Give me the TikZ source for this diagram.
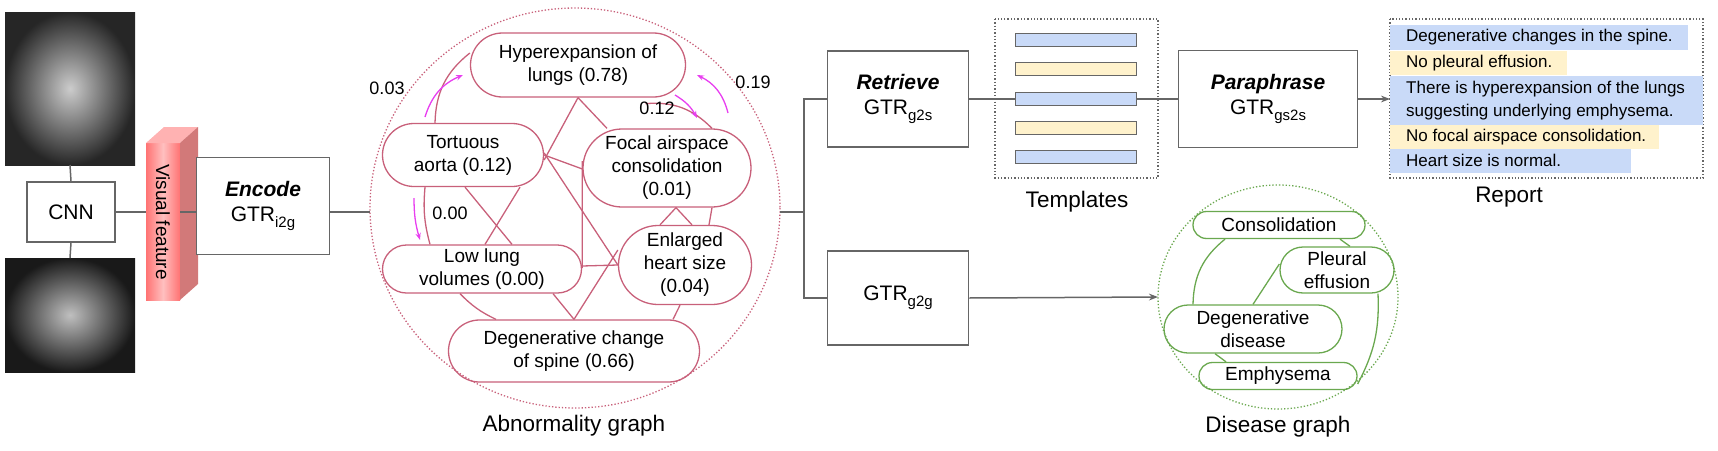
\documentclass[tikz,border=0pt]{standalone}
\usepackage{fontspec}
\setmainfont{Liberation Sans}
\usetikzlibrary{shapes.misc,arrows.meta,calc}
\definecolor{pk}{HTML}{C8607A}
\definecolor{mg}{HTML}{E83EF0}
\definecolor{gn}{HTML}{6AA84F}
\definecolor{gy}{HTML}{666666}
\definecolor{bl}{HTML}{C9DAF8}
\definecolor{yl}{HTML}{FFF2CC}
\newcommand\gsub[1]{\raisebox{-6pt}{\fontsize{15}{16}\selectfont #1}}
\begin{document}
\begin{tikzpicture}[x=1pt,y=-1pt,
  box/.style={draw=gy,line width=1.5pt,fill=white,align=center,font=\fontsize{21}{25}\selectfont},
  an/.style={draw=pk,line width=1.3pt,rounded rectangle,align=center,inner sep=1pt,font=\fontsize{19}{23}\selectfont},
  dn/.style={draw=gn,line width=1.3pt,rounded rectangle,align=center,inner sep=1pt,font=\fontsize{19}{23}\selectfont},
  pe/.style={draw=pk,line width=1.3pt},
  ge/.style={draw=gn,line width=1.3pt},
  ma/.style={draw=mg,line width=1.3pt,-{Stealth[length=7pt]}},
  gl/.style={draw=gy,line width=1.5pt},
  lbl/.style={font=\fontsize{22.5}{26}\selectfont},
  num/.style={font=\fontsize{18}{21}\selectfont},
  rep/.style={anchor=west,inner sep=0pt,font=\fontsize{17}{20}\selectfont}]
\useasboundingbox (0,0) rectangle (1718,450);
% x-ray placeholders
\shade[inner color=gray!40,outer color=black!85] (5,12) rectangle (135,165);
\shade[inner color=gray!50,outer color=black!90] (5,258) rectangle (135,372);
\coordinate (imgA) at (70,165);
\coordinate (imgB) at (70,258);
\node[box,minimum width=88pt,minimum height=60pt] (cnn) at (71,212) {CNN};
\draw[gl] (imgA) -- (cnn.north);
\draw[gl] (imgB) -- (cnn.south);
% visual feature block
\shade[left color=red!55!white,right color=red!55!white,middle color=red!25!white] (146,143) rectangle (180,300);
\fill[red!30!white] (146,143) -- (164,127) -- (198,127) -- (180,143) -- cycle;
\fill[red!50!gray!70] (180,143) -- (198,127) -- (198,284) -- (180,300) -- cycle;
\node[rotate=-90,font=\fontsize{19}{22}\selectfont] (vf) at (163,222) {Visual feature};
\coordinate (vfl) at (146,212);
\coordinate (vfr) at (180,212);
\draw[gl] (cnn.east) -- (vfl);
\node[box,minimum width=133pt,minimum height=97pt] (enc) at (263,206) {\textbf{\textit{Encode}}\\GTR\gsub{i2g}};
\draw[gl] (vfr) -- (enc.west|-vfr);
% abnormality graph
\draw[pk,line width=1.3pt,dotted] (575,208) ellipse [x radius=205,y radius=200];
\coordinate (abl) at (370,212);
\coordinate (abr) at (780,212);
\draw[gl] (enc.east|-abl) -- (abl);
\node[an,minimum width=217pt,minimum height=64pt] (hyp) at (578,65) {Hyperexpansion of\\lungs (0.78)};
\node[an,minimum width=163pt,minimum height=63pt] (tor) at (463,155) {Tortuous\\aorta (0.12)};
\node[an,minimum width=170pt,minimum height=78pt] (foc) at (667,168) {Focal airspace\\consolidation\\(0.01)};
\node[an,minimum width=201pt,minimum height=48pt] (low) at (482,269) {Low lung\\volumes (0.00)};
\node[an,minimum width=135pt,minimum height=79pt] (enl) at (685,265) {Enlarged\\heart size\\(0.04)};
\node[an,minimum width=253pt,minimum height=62pt] (deg) at (574,351) {Degenerative change\\of spine (0.66)};
\draw[pe] ([xshift=-28pt]tor.north) to[bend left=25] ([yshift=12pt]hyp.west);
\draw[pe] (hyp.south) -- ([yshift=-5pt]tor.east);
\draw[pe] (hyp.south) -- ([xshift=-60pt]foc.north);
\draw[pe] ([xshift=-8pt,yshift=-6pt]hyp.south east) to[bend left=25] ([xshift=45pt]foc.north);
\draw[pe] (tor.east) -- ([yshift=-1pt]foc.west);
\draw[pe] ([yshift=2pt]tor.east) -- (enl.west);
\draw[pe] ([xshift=2pt]tor.south) -- ([xshift=30pt]low.north);
\draw[pe] ([xshift=57pt]tor.south) -- ([xshift=3pt]low.north);
\draw[pe] ([xshift=-38pt]tor.south) to[bend right=10] ([xshift=-52pt]low.north);
\draw[pe] ([yshift=7pt]foc.west) -- ([yshift=1pt]low.east);
\draw[pe] ([yshift=3pt]low.east) -- ([yshift=-0pt]enl.west);
\draw[pe] ([xshift=9pt]foc.south) -- ([xshift=-25pt]enl.north);
\draw[pe] ([xshift=9pt]foc.south) -- ([xshift=7pt]enl.north);
\draw[pe] ([xshift=45pt]foc.south) -- ([xshift=24pt]enl.north);
\draw[pe] ([xshift=-22pt]low.south) to[bend right=10] ([xshift=-78pt]deg.north);
\draw[pe] ([xshift=71pt]low.south) -- (deg.north);
\draw[pe] ([yshift=15pt]enl.west) -- (deg.north);
\draw[pe] ([xshift=-5pt]enl.south) -- ([xshift=99pt]deg.north);
% magenta arrows
\coordinate (m1a) at (425,117); \coordinate (m1b) at (463,75);
\draw[ma] (m1a) to[bend left=25] (m1b);
\node[num] (n1) at (387,88) {0.03};
\coordinate (m2a) at (675,95); \coordinate (m2b) at (697,118);
\draw[ma] (m2a) to[bend left=15] (m2b);
\node[num] (n2) at (657,108) {0.12};
\coordinate (m3a) at (728,113); \coordinate (m3b) at (697,75);
\draw[ma] (m3a) to[bend right=25] (m3b);
\node[num] (n3) at (753,82) {0.19};
\coordinate (m4a) at (414,198); \coordinate (m4b) at (420,240);
\draw[ma] (m4a) to[bend right=8] (m4b);
\node[num] (n4) at (450,213) {0.00};
\node[lbl] (ablbl) at (574,426) {Abnormality graph};
% branch
\node[box,minimum width=141pt,minimum height=96pt] (ret) at (898,99) {\textbf{\textit{Retrieve}}\\GTR\gsub{g2s}};
\node[box,minimum width=141pt,minimum height=94pt] (g2g) at (898,298) {GTR\gsub{g2g}};
\coordinate (br) at (804,212);
\draw[gl] (abr) -- (br);
\draw[gl] (ret.west) -| (br) |- (g2g.west);
% templates
\draw[gy,line width=1.3pt,dotted] (995,19) rectangle (1158,178);
\foreach \y/\c [count=\i] in {40/bl,69/yl,99/bl,128/yl,157/bl}
  \node[draw=gy,line width=1.3pt,fill=\c,minimum width=121pt,minimum height=13pt,inner sep=0pt] (t\i) at (1076,\y) {};
\node[lbl] (tlbl) at (1077,202) {Templates};
\draw[gl] (ret.east) -- (t3.west);
\node[box,minimum width=179pt,minimum height=97pt] (par) at (1268,99) {\textbf{\textit{Paraphrase}}\\GTR\gsub{gs2s}};
\draw[gl] (t3.east) -- (par.west);
% report
\draw[gy,line width=1.3pt,dotted] (1390,19) rectangle (1703,178);
\fill[bl] (1390,25) rectangle (1688,50);
\fill[yl] (1390,51) rectangle (1567,75);
\fill[bl] (1390,76) rectangle (1703,125);
\fill[yl] (1390,125) rectangle (1659,149);
\fill[bl] (1390,149) rectangle (1631,173);
\node[rep] (r1) at (1406,37) {Degenerative changes in the spine.};
\node[rep] (r2) at (1406,63) {No pleural effusion.};
\node[rep] (r3) at (1406,89) {There is hyperexpansion of the lungs};
\node[rep] (r4) at (1406,112) {suggesting underlying emphysema.};
\node[rep] (r5) at (1406,137) {No focal airspace consolidation.};
\node[rep] (r6) at (1406,160) {Heart size is normal.};
\coordinate (repl) at (1390,99);
\draw[gl,-{Stealth[length=9pt]}] (par.east) -- (repl);
\node[lbl] (rlbl) at (1509,197) {Report};
% disease graph
\draw[gn,line width=1.3pt,dotted] (1278,297) ellipse [x radius=120,y radius=112];
\coordinate (dgl) at (1158,297);
\draw[gl,-{Stealth[length=9pt]}] (g2g.east) -- (dgl);
\node[dn,minimum width=174pt,minimum height=27pt] (con) at (1279,225) {Consolidation};
\node[dn,minimum width=116pt,minimum height=46pt] (ple) at (1337,270) {Pleural\\effusion};
\node[dn,minimum width=180pt,minimum height=48pt] (ddi) at (1253,329) {Degenerative\\disease};
\node[dn,minimum width=160pt,minimum height=27pt] (emp) at (1278,376) {Emphysema};
\draw[ge] ([xshift=-54pt]con.south) to[bend right=25] ([xshift=-60pt]ddi.north);
\draw[ge] ([xshift=61pt]con.south) -- ([xshift=13pt]ple.north);
\draw[ge] ([yshift=6pt]ple.west) -- (ddi.north);
\draw[ge] ([xshift=41pt]ple.south) to[bend left=15] ([yshift=-8pt]emp.east);
\draw[ge] ([xshift=-38pt]ddi.south) -- ([xshift=-52pt]emp.north);
\node[lbl] (dlbl) at (1278,427) {Disease graph};
\end{tikzpicture}
\end{document}
